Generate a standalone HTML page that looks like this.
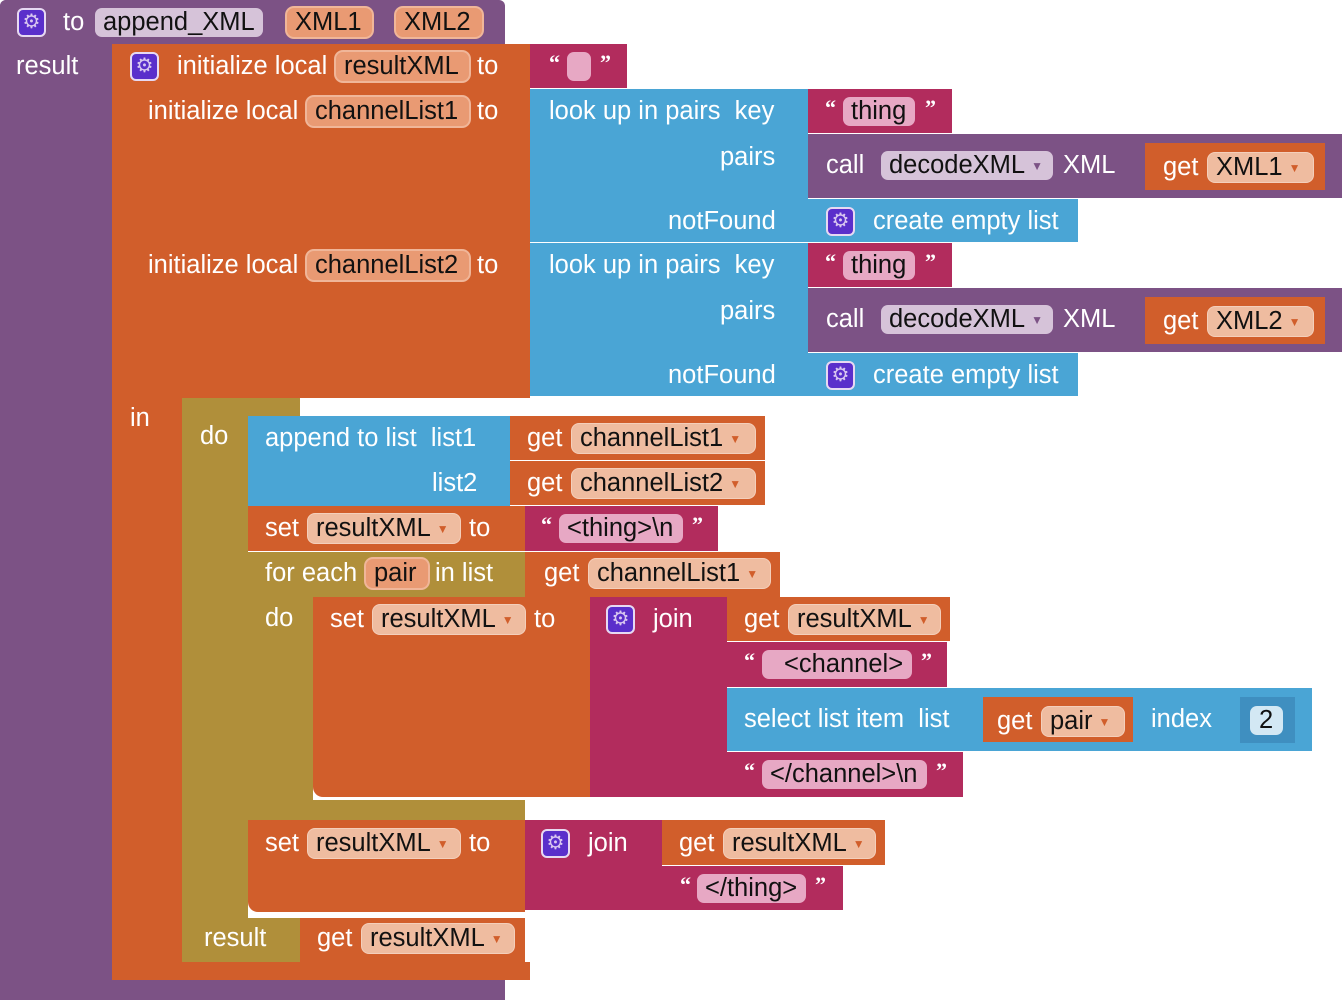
<!DOCTYPE html>
<html><head><meta charset="utf-8"><style>
*{margin:0;padding:0;box-sizing:border-box}
body{width:1342px;height:1000px;background:#fff;position:relative;overflow:hidden;font-family:"Liberation Sans",sans-serif}
.b{position:absolute}
.P{background:#7c5285}.O{background:#d15e2b}.B{background:#4aa5d5}.M{background:#b22c5d}.L{background:#b08f3a}
.t{position:absolute;color:#fff;font-size:25.5px;line-height:28px;white-space:nowrap;transform:translateY(-14px)}
.f{position:absolute;font-size:25.5px;line-height:28px;height:29px;color:#111;border-radius:7px;white-space:nowrap;transform:translateY(-14px);padding:0 8px;overflow:hidden}
.fo{background:#efbca0;box-shadow:0 0 0 1px #f4cfbb}
.fp{background:#d6c3d9}
.fk{background:#e7a8c4}
.fv{background:#e99a73;box-shadow:0 0 0 2px #f0b699}
.ar{color:#d15e2b;font-size:12px;position:relative;top:-3px;margin-left:6px}
.g{position:absolute;width:29px;height:29px;background:#5a2fcb;border:2px solid #e7d9f2;border-radius:6px;color:#d9c7f0;font-size:20px;line-height:24px;text-align:center;transform:translateY(-14px)}
.q{position:absolute;color:#fff;font-size:22px;font-weight:bold;font-family:"Liberation Serif",serif;transform:translateY(-16px)}
</style></head><body>
<div class="b P" style="left:0;top:0;width:505px;height:44px;border-radius:6px 6px 0 0"></div>
<div class="b P" style="left:0;top:0;width:112px;height:1000px;border-radius:6px 0 0 6px"></div>
<div class="b P" style="left:0;top:980px;width:505px;height:20px"></div>
<div class="b O" style="left:112px;top:44px;width:418px;height:354px"></div>
<div class="b O" style="left:112px;top:44px;width:70px;height:936px"></div>
<div class="b O" style="left:112px;top:962px;width:418px;height:18px"></div>
<div class="b L" style="left:182px;top:398px;width:118px;height:18px"></div>
<div class="b L" style="left:182px;top:398px;width:66px;height:564px"></div>
<div class="b L" style="left:182px;top:918px;width:118px;height:44px"></div>
<div class="b L" style="left:248px;top:552px;width:277px;height:45px"></div>
<div class="b L" style="left:248px;top:552px;width:65px;height:268px"></div>
<div class="b L" style="left:248px;top:800px;width:277px;height:20px"></div>
<div class="b M" style="left:530px;top:44px;width:97px;height:44px"></div>
<div class="b B" style="left:530px;top:89px;width:278px;height:153px"></div>
<div class="b M" style="left:808px;top:89px;width:144px;height:44px"></div>
<div class="b P" style="left:808px;top:134px;width:534px;height:64px"></div>
<div class="b O" style="left:1145px;top:143px;width:180px;height:47px"></div>
<div class="b B" style="left:808px;top:199px;width:270px;height:43px"></div>
<div class="b B" style="left:530px;top:243px;width:278px;height:153px"></div>
<div class="b M" style="left:808px;top:243px;width:144px;height:44px"></div>
<div class="b P" style="left:808px;top:288px;width:534px;height:64px"></div>
<div class="b O" style="left:1145px;top:297px;width:180px;height:47px"></div>
<div class="b B" style="left:808px;top:353px;width:270px;height:43px"></div>
<div class="b B" style="left:248px;top:416px;width:262px;height:90px"></div>
<div class="b O" style="left:510px;top:416px;width:255px;height:44px"></div>
<div class="b O" style="left:510px;top:461px;width:255px;height:44px"></div>
<div class="b O" style="left:248px;top:506px;width:277px;height:45px"></div>
<div class="b M" style="left:525px;top:506px;width:193px;height:45px"></div>
<div class="b O" style="left:525px;top:552px;width:255px;height:45px"></div>
<div class="b O" style="left:313px;top:597px;width:277px;height:200px;border-radius:0 0 0 10px"></div>
<div class="b M" style="left:590px;top:597px;width:137px;height:200px"></div>
<div class="b O" style="left:727px;top:597px;width:223px;height:44px"></div>
<div class="b M" style="left:727px;top:642px;width:220px;height:45px"></div>
<div class="b B" style="left:727px;top:688px;width:585px;height:63px"></div>
<div class="b O" style="left:983px;top:697px;width:150px;height:45px"></div>
<div class="b" style="left:1240px;top:697px;width:55px;height:46px;background:#3f8fc0"></div>
<div class="b M" style="left:727px;top:752px;width:236px;height:45px"></div>
<div class="b O" style="left:248px;top:820px;width:277px;height:92px;border-radius:0 0 0 10px"></div>
<div class="b M" style="left:525px;top:820px;width:137px;height:90px"></div>
<div class="b O" style="left:662px;top:820px;width:223px;height:45px"></div>
<div class="b M" style="left:662px;top:866px;width:181px;height:44px"></div>
<div class="b O" style="left:300px;top:918px;width:225px;height:44px"></div>

<div class="g" style="left:17px;top:22px">⚙</div>
<div class="t" style="left:63px;top:22px">to</div>
<div class="f fp" style="left:95px;top:22px;width:168px">append_XML</div>
<div class="f fv" style="left:287px;top:22px;width:85px">XML1</div>
<div class="f fv" style="left:396px;top:22px;width:86px">XML2</div>
<div class="t" style="left:16px;top:66px">result</div>
<div class="g" style="left:130px;top:66px">⚙</div>
<div class="t" style="left:177px;top:66px">initialize local</div>
<div class="f fv" style="left:336px;top:66px;width:133px">resultXML</div>
<div class="t" style="left:477px;top:66px">to</div>
<div class="q" style="left:549px;top:66px">“</div><div class="f fk" style="left:567px;top:66px;width:24px"></div><div class="q" style="left:600px;top:66px">”</div>
<div class="t" style="left:148px;top:111px">initialize local</div>
<div class="f fv" style="left:307px;top:111px;width:162px">channelList1</div>
<div class="t" style="left:477px;top:111px">to</div>
<div class="t" style="left:148px;top:265px">initialize local</div>
<div class="f fv" style="left:307px;top:265px;width:162px">channelList2</div>
<div class="t" style="left:477px;top:265px">to</div>

<div class="t" style="left:549px;top:111px">look up in pairs&nbsp; key</div>
<div class="t" style="left:720px;top:157px">pairs</div>
<div class="t" style="left:668px;top:221px">notFound</div>
<div class="q" style="left:825px;top:111px">“</div><div class="f fk" style="left:843px;top:111px;width:72px">thing</div><div class="q" style="left:925px;top:111px">”</div>
<div class="t" style="left:826px;top:165px">call</div>
<div class="f fp" style="left:881px;top:165px;width:172px">decodeXML<span class="ar" style="color:#7c5285">▼</span></div>
<div class="t" style="left:1063px;top:165px">XML</div>
<div class="t" style="left:1163px;top:167px">get</div>
<div class="f fo" style="left:1208px;top:167px;width:105px">XML1<span class="ar">▼</span></div>
<div class="g" style="left:826px;top:221px">⚙</div>
<div class="t" style="left:873px;top:221px">create empty list</div>

<div class="t" style="left:549px;top:265px">look up in pairs&nbsp; key</div>
<div class="t" style="left:720px;top:311px">pairs</div>
<div class="t" style="left:668px;top:375px">notFound</div>
<div class="q" style="left:825px;top:265px">“</div><div class="f fk" style="left:843px;top:265px;width:72px">thing</div><div class="q" style="left:925px;top:265px">”</div>
<div class="t" style="left:826px;top:319px">call</div>
<div class="f fp" style="left:881px;top:319px;width:172px">decodeXML<span class="ar" style="color:#7c5285">▼</span></div>
<div class="t" style="left:1063px;top:319px">XML</div>
<div class="t" style="left:1163px;top:321px">get</div>
<div class="f fo" style="left:1208px;top:321px;width:105px">XML2<span class="ar">▼</span></div>
<div class="g" style="left:826px;top:375px">⚙</div>
<div class="t" style="left:873px;top:375px">create empty list</div>

<div class="t" style="left:130px;top:418px">in</div>
<div class="t" style="left:200px;top:436px">do</div>
<div class="t" style="left:265px;top:438px">append to list&nbsp; list1</div>
<div class="t" style="left:432px;top:483px">list2</div>
<div class="t" style="left:527px;top:438px">get</div>
<div class="f fo" style="left:572px;top:438px;width:183px">channelList1<span class="ar">▼</span></div>
<div class="t" style="left:527px;top:483px">get</div>
<div class="f fo" style="left:572px;top:483px;width:183px">channelList2<span class="ar">▼</span></div>
<div class="t" style="left:265px;top:528px">set</div>
<div class="f fo" style="left:308px;top:528px;width:152px">resultXML<span class="ar">▼</span></div>
<div class="t" style="left:469px;top:528px">to</div>
<div class="q" style="left:541px;top:528px">“</div><div class="f fk" style="left:559px;top:528px;width:124px">&lt;thing&gt;\n</div><div class="q" style="left:692px;top:528px">”</div>
<div class="t" style="left:265px;top:573px">for each</div>
<div class="f fv" style="left:366px;top:573px;width:62px">pair</div>
<div class="t" style="left:435px;top:573px">in list</div>
<div class="t" style="left:544px;top:573px">get</div>
<div class="f fo" style="left:589px;top:573px;width:181px">channelList1<span class="ar">▼</span></div>
<div class="t" style="left:265px;top:618px">do</div>
<div class="t" style="left:330px;top:619px">set</div>
<div class="f fo" style="left:373px;top:619px;width:152px">resultXML<span class="ar">▼</span></div>
<div class="t" style="left:534px;top:619px">to</div>
<div class="g" style="left:606px;top:619px">⚙</div>
<div class="t" style="left:653px;top:619px">join</div>
<div class="t" style="left:744px;top:619px">get</div>
<div class="f fo" style="left:789px;top:619px;width:151px">resultXML<span class="ar">▼</span></div>
<div class="q" style="left:744px;top:664px">“</div><div class="f fk" style="left:762px;top:664px;width:150px;padding-left:22px">&lt;channel&gt;</div><div class="q" style="left:921px;top:664px">”</div>
<div class="t" style="left:744px;top:719px">select list item&nbsp; list</div>
<div class="t" style="left:997px;top:721px">get</div>
<div class="f fo" style="left:1042px;top:721px;width:82px">pair<span class="ar">▼</span></div>
<div class="t" style="left:1151px;top:719px">index</div>
<div class="f" style="left:1250px;top:720px;width:33px;background:#d3e8f4;padding:0 9px">2</div>
<div class="q" style="left:744px;top:774px">“</div><div class="f fk" style="left:762px;top:774px;width:165px">&lt;/channel&gt;\n</div><div class="q" style="left:936px;top:774px">”</div>
<div class="t" style="left:265px;top:843px">set</div>
<div class="f fo" style="left:308px;top:843px;width:152px">resultXML<span class="ar">▼</span></div>
<div class="t" style="left:469px;top:843px">to</div>
<div class="g" style="left:541px;top:843px">⚙</div>
<div class="t" style="left:588px;top:843px">join</div>
<div class="t" style="left:679px;top:843px">get</div>
<div class="f fo" style="left:724px;top:843px;width:151px">resultXML<span class="ar">▼</span></div>
<div class="q" style="left:680px;top:888px">“</div><div class="f fk" style="left:697px;top:888px;width:109px">&lt;/thing&gt;</div><div class="q" style="left:815px;top:888px">”</div>
<div class="t" style="left:204px;top:938px">result</div>
<div class="t" style="left:317px;top:938px">get</div>
<div class="f fo" style="left:362px;top:938px;width:152px">resultXML<span class="ar">▼</span></div>
</body></html>
